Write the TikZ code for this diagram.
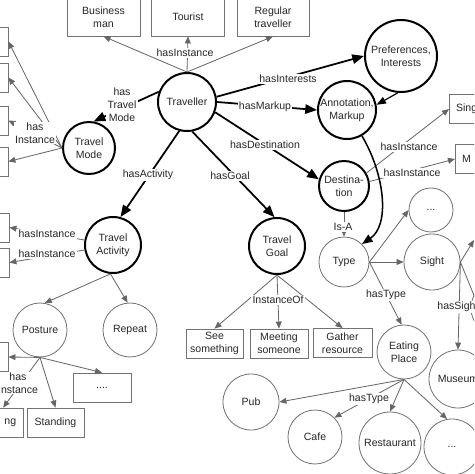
\documentclass[tikz,border=0pt]{standalone}
\usepackage{fontspec}
\setmainfont{Liberation Sans}
\usetikzlibrary{arrows.meta, positioning}

\tikzset{
  every node/.style={font=\fontsize{9}{11}\selectfont, text=black!85},
  bigc/.style={circle, draw=black, line width=1.7pt, minimum size=#1, inner sep=0pt, align=center},
  smallc/.style={circle, draw=black!55, line width=0.7pt, minimum size=#1, inner sep=0pt, align=center},
  inst/.style={draw=black!55, line width=0.7pt, minimum width=#1, minimum height=0.87cm, inner sep=1pt, align=center},
  rel/.style={line width=1.5pt, -{Triangle[length=10pt,width=8pt]}},
  sub/.style={draw=black!60, line width=0.7pt, -{Triangle[length=6pt,width=5pt]}},
  lbl/.style={fill=white, inner sep=1pt, align=center},
}

\begin{document}
\begin{tikzpicture}[x=0.03cm, y=-0.03cm]
  \clip (0,0) rectangle (474,474);

  % traveller and its instances
  \node[bigc=1.74cm] (trav) at (187,102) {Traveller};
  \node[inst=2.19cm, minimum height=1.14cm] (busin) at (103.5,17) {Business\\man};
  \node[inst=2.19cm, minimum height=1.14cm] (tour) at (188,17) {Tourist};
  \node[inst=2.16cm, minimum height=1.14cm] (regul) at (273,17) {Regular\\traveller};

  % travel mode
  \node[bigc=1.56cm] (tmode) at (89,148) {Travel\\Mode};
  \node[inst=1.8cm] (mbox1) at (-22,41.5) {};
  \node[inst=1.8cm] (mbox2) at (-22,77.5) {};
  \node[inst=1.8cm] (mbox3) at (-22,120.5) {};
  \node[inst=1.8cm] (mbox4) at (-22,161.5) {};

  % travel activity
  \node[bigc=1.68cm] (tact) at (113,245) {Travel\\Activity};
  \node[inst=1.8cm] (abox1) at (-21,227.5) {};
  \node[inst=1.8cm] (abox2) at (-21,262.5) {};
  \node[smallc=1.62cm] (post) at (40,330) {Posture};
  \node[smallc=1.62cm] (rept) at (130,330) {Repeat};
  \node[inst=1.8cm] (pbox) at (-22,357) {};
  \node[inst=1.71cm, text width=1.3cm, align=right] (sitt) at (-5.5,422.5) {ng};
  \node[inst=1.71cm] (stand) at (55.5,422.5) {Standing};
  \node[inst=1.74cm] (pdots) at (102,387.5) {....};

  % travel goal
  \node[bigc=1.68cm] (tgoal) at (277,246) {Travel\\Goal};
  \node[inst=1.71cm] (see) at (214.5,343.5) {See\\something};
  \node[inst=1.74cm] (meet) at (279,343.5) {Meeting\\someone};
  \node[inst=1.77cm] (gath) at (342.5,343) {Gather\\resource};

  % interests, markup, destination
  \node[bigc=2.16cm] (pref) at (401,56) {Preferences,\\Interests};
  \node[bigc=1.74cm] (annot) at (347,110) {Annotation,\\Markup};
  \node[bigc=1.5cm] (dest) at (344,186) {Destina-\\tion};
  \node[inst=2.2cm, text width=1.8cm, align=left, anchor=west] (sing) at (449,109) {Sing};
  \node[inst=2.2cm, text width=1.8cm, align=left, anchor=west] (mbox) at (455,159) {M};

  % destination types
  \node[smallc=1.5cm] (type) at (344,262) {Type};
  \node[smallc=1.32cm] (dots1) at (431,210) {...};
  \node[smallc=1.68cm] (sight) at (432,262) {Sight};
  \node[smallc=1.68cm] (rcirc) at (499,308) {};
  \coordinate (offr) at (474,240);
  \coordinate (offr2) at (484,320);
  \node[smallc=1.74cm] (museum) at (458,379) {Museum};
  \node[smallc=1.62cm] (eat) at (404,352) {Eating\\Place};
  \node[smallc=1.68cm] (pub) at (251,402) {Pub};
  \node[smallc=1.62cm] (cafe) at (315,437) {Cafe};
  \node[smallc=1.86cm] (rest) at (390,443) {Restaurant};
  \node[smallc=1.68cm] (dots2) at (452,447) {...};

  % thin connectors
  \foreach \b in {busin,tour,regul}
    \draw[sub] (trav.north) -- (\b.south);
  \foreach \b in {mbox1,mbox2,mbox3,mbox4}
    \draw[sub] (tmode.west) -- (\b.east);
  \draw[sub] (tact.170) -- (abox1.east);
  \draw[sub] (tact.190) -- (abox2.east);
  \draw[sub] (tact.265) -- (post.80);
  \draw[sub] (tact.265) -- (rept.95);
  \draw[sub] (post.south) -- (pbox.east);
  \draw[sub] (post.south) -- (sitt.60);
  \draw[sub] (post.south) -- (stand.north);
  \draw[sub] (post.south) -- (pdots.north);
  \foreach \b in {see,meet,gath}
    \draw[sub] (tgoal.south) -- (\b.north);
  \draw[sub] (dest.30) -- (sing.west);
  \draw[sub] (dest.10) -- (mbox.west);
  \draw[sub] (dest.south) -- (type.north);
  \draw[sub] (type.east) -- (dots1.west);
  \draw[sub] (type.east) -- (sight.west);
  \draw[sub] (type.east) -- (eat.95);
  \draw[sub] (sight.east) -- (offr);
  \draw[sub] (sight.east) -- (offr2);
  \draw[sub] (sight.east) -- (museum.north);
  \draw[sub] (eat.south) -- (pub.east);
  \draw[sub] (eat.south) -- (cafe.45);
  \draw[sub] (eat.south) -- (rest.north);
  \draw[sub] (eat.south) -- (dots2.100);

  % thick relations
  \draw[rel] (trav.160) -- (tmode.80);
  \draw[rel] (trav.255) -- (tact.75);
  \draw[rel] (trav.280) -- (tgoal.95);
  \draw[rel] (trav.340) -- (dest.165);
  \draw[rel] (trav.0) -- (annot.west);
  \draw[rel] (trav.10) -- (pref.west);
  \draw[line width=1pt, -{Triangle[length=8pt,width=6pt]}] (pref.265) -- (annot.10);
  \draw[line width=1.3pt, -{Triangle[length=9pt,width=7pt]}]
    (annot.-60) .. controls (385,175) and (390,225) .. (type.45);

  % labels
  \node[lbl] (l1) at (185,53) {hasInstance};
  \node[lbl] (l2) at (122,105) {has\\Travel\\Mode};
  \node[lbl] (l3) at (35,133) {has\\Instance};
  \node[lbl] (l4) at (148,175) {hasActivity};
  \node[lbl] (l5) at (230,176) {hasGoal};
  \node[lbl] (l6) at (265,145) {hasDestination};
  \node[lbl] (l7) at (265,107) {hasMarkup};
  \node[lbl] (l8) at (288,79) {hasInterests};
  \node[lbl] (l9) at (47,234) {hasInstance};
  \node[lbl] (l10) at (47,254) {hasInstance};
  \node[lbl] (l11) at (409,147) {hasInstance};
  \node[lbl] (l12) at (412,173) {hasInstance};
  \node[lbl] (l13) at (343,227) {Is-A};
  \node[lbl] (l14) at (386,295) {hasType};
  \node[lbl, anchor=west] (l15) at (436,307) {hasSigh};
  \node[lbl] (l16) at (278,300) {InstanceOf};
  \node[lbl] (l17) at (18,383) {has\\Instance};
  \node[lbl] (l18) at (369,399) {hasType};
\end{tikzpicture}
\end{document}
